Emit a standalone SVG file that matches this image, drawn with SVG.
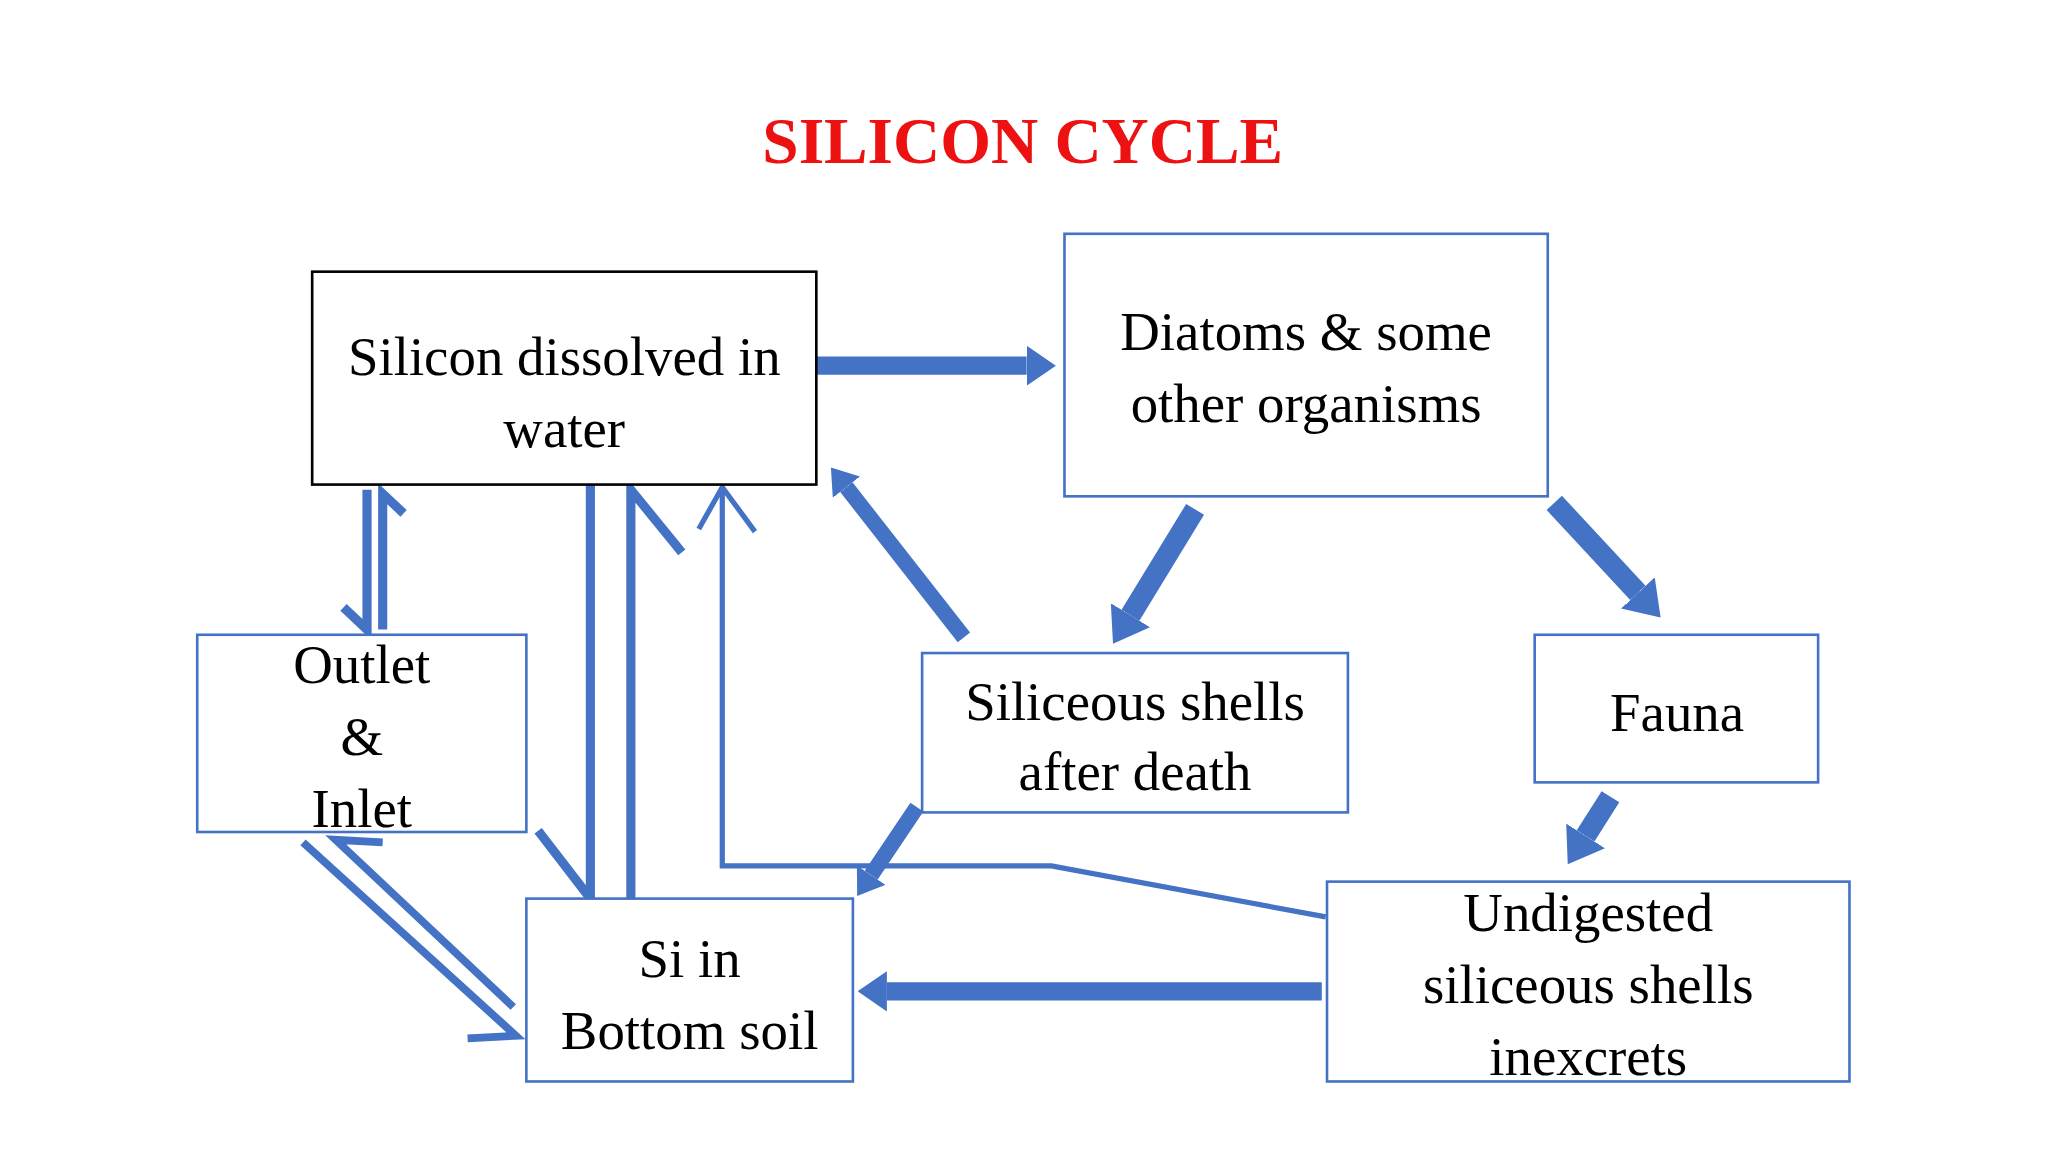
<svg xmlns="http://www.w3.org/2000/svg" width="2048" height="1152" viewBox="0 0 2048 1152">
<style>
.bx{fill:#fff;stroke:#4472C4;stroke-width:2}
.t{font-family:"Liberation Serif","Times New Roman",serif;font-size:42px;fill:#000;text-anchor:middle}
.blk{stroke:#4472C4;fill:none;marker-end:url(#h)}
.ln{stroke:#4472C4;fill:none;stroke-linecap:butt;stroke-linejoin:miter}
</style>
<defs>
<marker id="h" viewBox="0 0 10 10" markerWidth="1.6" markerHeight="2.2" refX="0" refY="5" orient="auto" preserveAspectRatio="none"><path d="M0,0 L10,5 L0,10 z" fill="#4472C4"/></marker>
</defs>
<rect width="2048" height="1152" fill="#fff"/>
<g transform="scale(1.30612)">
<text x="783" y="125" style="font-family:'Liberation Serif',serif;font-size:50px;font-weight:bold;fill:#ee1111;text-anchor:middle">SILICON CYCLE</text>
<g id="connectors">
<line class="blk" x1="625" y1="280" x2="786" y2="280" stroke-width="14"/>
<line class="blk" x1="915" y1="390" x2="865.5" y2="471" stroke-width="16"/>
<line class="blk" x1="1190" y1="385" x2="1254" y2="454" stroke-width="16"/>
<line class="blk" x1="1233" y1="610" x2="1214" y2="640" stroke-width="16"/>
<line class="blk" x1="738" y1="488" x2="648" y2="373" stroke-width="12"/>
<line class="blk" x1="702" y1="618" x2="667" y2="670" stroke-width="12"/>
<line class="blk" x1="1012" y1="759" x2="679" y2="759" stroke-width="14"/>
<polyline class="ln" points="1015,702 805,663 553,663 553,373" stroke-width="4"/>
<polyline class="ln" points="535,405 553,373 578,407" stroke-width="4"/>
<polyline class="ln" points="452,371 452,688 412,636" stroke-width="7"/>
<polyline class="ln" points="483,688 483,375 522,423" stroke-width="7"/>
<polyline class="ln" points="281,375 281,482 263,465" stroke-width="7"/>
<polyline class="ln" points="293,482 293,378 309,393" stroke-width="7"/>
<polyline class="ln" points="232,645 395,793 358,795" stroke-width="6"/>
<polyline class="ln" points="393,771 257,643 293,645" stroke-width="6"/>
</g>
<g id="n1"><rect x="239" y="208" width="386" height="163" fill="#fff" stroke="#000" stroke-width="2"/>
<text class="t" x="432" y="287">Silicon dissolved in</text><text class="t" x="432" y="342">water</text></g>
<g id="n2"><rect class="bx" x="815" y="179" width="370" height="201"/>
<text class="t" x="1000" y="268">Diatoms &amp; some</text><text class="t" x="1000" y="323">other organisms</text></g>
<g id="n3"><rect class="bx" x="151" y="486" width="252" height="151"/>
<text class="t" x="277" y="523">Outlet</text><text class="t" x="277" y="578">&amp;</text><text class="t" x="277" y="633">Inlet</text></g>
<g id="n4"><rect class="bx" x="706" y="500" width="326" height="122"/>
<text class="t" x="869" y="551">Siliceous shells</text><text class="t" x="869" y="605">after death</text></g>
<g id="n5"><rect class="bx" x="1175" y="486" width="217" height="113"/>
<text class="t" x="1284" y="560">Fauna</text></g>
<g id="n6"><rect class="bx" x="403" y="688" width="250" height="140"/>
<text class="t" x="528" y="748">Si in</text><text class="t" x="528" y="803">Bottom soil</text></g>
<g id="n7"><rect class="bx" x="1016" y="675" width="400" height="153"/>
<text class="t" x="1216" y="713">Undigested</text><text class="t" x="1216" y="768">siliceous shells</text><text class="t" x="1216" y="823">inexcrets</text></g>
</g>
</svg>
